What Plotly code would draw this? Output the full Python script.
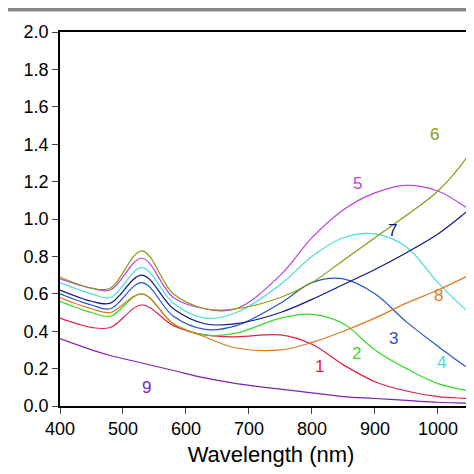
import plotly.graph_objects as go

wl = [400, 450, 480, 530, 580, 630, 680, 750, 800, 850, 900, 950, 1000, 1050, 1090]

c1 = [0.47, 0.42, 0.42, 0.54, 0.43, 0.38, 0.37, 0.38, 0.33, 0.22, 0.13, 0.08, 0.05, 0.04, 0.03]
c2 = [0.56, 0.50, 0.48, 0.60, 0.44, 0.38, 0.39, 0.47, 0.49, 0.44, 0.30, 0.20, 0.12, 0.08, 0.06]
c3 = [0.60, 0.54, 0.52, 0.66, 0.48, 0.41, 0.43, 0.55, 0.66, 0.68, 0.60, 0.45, 0.32, 0.20, 0.15]
c4 = [0.66, 0.60, 0.58, 0.74, 0.55, 0.47, 0.50, 0.65, 0.80, 0.90, 0.92, 0.85, 0.66, 0.50, 0.42]
c5 = [0.68, 0.63, 0.62, 0.79, 0.58, 0.52, 0.52, 0.70, 0.90, 1.05, 1.14, 1.18, 1.15, 1.05, 0.95]
c6 = [0.69, 0.63, 0.63, 0.83, 0.60, 0.52, 0.52, 0.58, 0.66, 0.78, 0.90, 1.02, 1.15, 1.35, 1.60]
c7 = [0.62, 0.56, 0.55, 0.70, 0.52, 0.44, 0.44, 0.50, 0.57, 0.65, 0.73, 0.82, 0.92, 1.05, 1.15]
c8 = [0.58, 0.52, 0.50, 0.60, 0.44, 0.37, 0.31, 0.30, 0.34, 0.40, 0.47, 0.55, 0.62, 0.70, 0.77]
c9 = [0.36, 0.30, 0.27, 0.23, 0.19, 0.15, 0.12, 0.09, 0.07, 0.05, 0.04, 0.03, 0.02, 0.015, 0.01]

series = [c1, c2, c3, c4, c5, c6, c7, c8, c9]
names = ["1", "2", "3", "4", "5", "6", "7", "8", "9"]
colors = ["#e0204a", "#33dd22", "#2255cc", "#44dddd", "#c040e0",
          "#8a9a10", "#101890", "#e07820", "#8020b0"]
lab_x = [812, 870, 930, 1005, 873, 994, 928, 1001, 537]
lab_y = [0.21, 0.28, 0.36, 0.23, 1.19, 1.45, 0.94, 0.59, 0.10]

fig = go.Figure()
for s, n, c in zip(series, names, colors):
    fig.add_trace(go.Scatter(x=wl, y=s, mode="lines", name=n,
                             line=dict(color=c, width=1.2, shape="spline")))
for n, c, x, y in zip(names, colors, lab_x, lab_y):
    fig.add_annotation(x=x, y=y, text=n, showarrow=False,
                       font=dict(color=c, size=17, family="Arial"))

fig.update_layout(
    width=474, height=474,
    margin=dict(l=52, r=0, t=24, b=76),
    plot_bgcolor="white", paper_bgcolor="white",
    showlegend=False,
    font=dict(family="Arial", color="black"),
    shapes=[dict(type="rect", xref="paper", yref="paper", x0=-0.2, x1=1.1,
                 y0=1.055, y1=1.2, fillcolor="#888888", line_width=0)],
)
fig.update_xaxes(range=[400, 1070], dtick=100, ticks="outside", ticklen=6,
                 showline=True, linecolor="black", linewidth=1.5, mirror=True,
                 showgrid=False, zeroline=False, tickfont=dict(size=18),
                 title=dict(text="Wavelength (nm)", font=dict(size=22), standoff=8))
fig.update_yaxes(range=[0, 2.0], dtick=0.2, tickformat=".1f", ticks="outside",
                 ticklen=6, showline=True, linecolor="black", linewidth=1.5,
                 showgrid=False, zeroline=False, tickfont=dict(size=18))

fig.write_html("out.html")
